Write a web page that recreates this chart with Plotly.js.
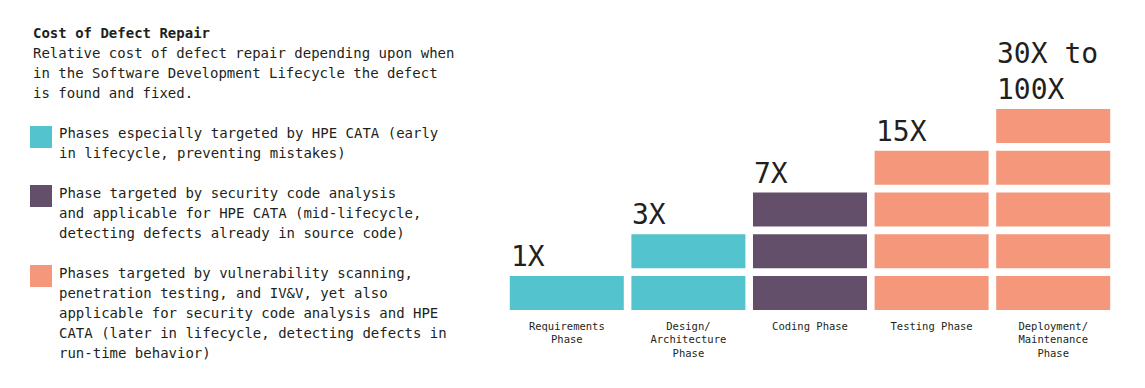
<!DOCTYPE html>
<html>
<head>
<meta charset="utf-8">
<script src="https://cdn.plot.ly/plotly-3.0.1.min.js"></script>
<style>html,body{margin:0;padding:0;background:#fff;}#chart{width:1145px;height:388px;}</style>
</head>
<body>
<div id="chart"></div>
<script>
// ---- data ----
const categories = ['Requirements<br>Phase', 'Design/<br>Architecture<br>Phase', 'Coding Phase', 'Testing Phase', 'Deployment/<br>Maintenance<br>Phase'];
const costLabels = ['1X', '3X', '7X', '15X', '30X to<br>100X'];
const blockCounts = [1, 2, 3, 4, 5];
const phaseGroup = [0, 0, 1, 2, 2];
const groupColors = ['#53C3CE', '#634F6A', '#F4977A'];
const chartTitle = 'Cost of Defect Repair';
const descriptionLines = [
  'Relative cost of defect repair depending upon when',
  'in the Software Development Lifecycle the defect',
  'is found and fixed.'
];
const legendLines = [
  ['Phases especially targeted by HPE CATA (early', 'in lifecycle, preventing mistakes)'],
  ['Phase targeted by security code analysis', 'and applicable for HPE CATA (mid-lifecycle,', 'detecting defects already in source code)'],
  ['Phases targeted by vulnerability scanning,', 'penetration testing, and IV&amp;V, yet also', 'applicable for security code analysis and HPE', 'CATA (later in lifecycle, detecting defects in', 'run-time behavior)']
];

// ---- layout constants ----
const FONT = '"DejaVu Sans Mono", "Liberation Mono", monospace';
const TXT = '#231F20';
const ML = 506, MR = 31, MT = 80, MB = 78;
const PITCH_PX = 41.75;
const plotH = 388 - MT - MB;
const BLOCK = 34 / PITCH_PX;
const maxBlocks = Math.max(...blockCounts);

const idx = categories.map((_, i) => i);
const traces = [];
for (let k = 1; k <= maxBlocks; k++) {
  const xs = [], ys = [], bs = [], cs = [];
  idx.forEach(i => {
    if (blockCounts[i] >= k) {
      xs.push(i); ys.push(BLOCK); bs.push(k - 1); cs.push(groupColors[phaseGroup[i]]);
    }
  });
  traces.push({type: 'bar', x: xs, y: ys, base: bs, marker: {color: cs, line: {width: 0}},
    hoverinfo: 'skip', showlegend: false});
}

const annotations = [];
// cost labels above stacks
idx.forEach(i => {
  annotations.push({xref: 'x', yref: 'y', x: i, y: blockCounts[i] - 1 + BLOCK,
    xanchor: 'left', yanchor: 'bottom', xshift: -58, yshift: 1, align: 'left',
    text: costLabels[i], showarrow: false,
    font: {family: FONT, size: 28, color: TXT}});
});
// text block on left (pixel placement)
function leftText(text, px, py, opts) {
  annotations.push(Object.assign({xref: 'paper', yref: 'paper', x: 0, y: 1,
    xanchor: 'left', yanchor: 'middle', xshift: px - ML, yshift: MT - py,
    text: text, showarrow: false, align: 'left',
    font: {family: FONT, size: 14, color: TXT}}, opts || {}));
}
leftText('<b>' + chartTitle + '</b>', 31, 33);
descriptionLines.forEach((t, j) => leftText(t, 31, 53 + 20 * j));
const legendStartY = [133, 193, 273];
const squareTop = [126, 185, 265];
const shapes = [];
legendLines.forEach((lines, g) => {
  lines.forEach((t, j) => leftText(t, 57, legendStartY[g] + 20 * j));
  shapes.push({type: 'rect', xref: 'paper', yref: 'paper', xsizemode: 'pixel', ysizemode: 'pixel',
    xanchor: 0, yanchor: 1, x0: 30 - ML, x1: 52 - ML, y0: MT - (squareTop[g] + 22), y1: MT - squareTop[g],
    fillcolor: groupColors[g], line: {width: 0}});
});

const layout = {
  width: 1145, height: 388,
  margin: {l: ML, r: MR, t: MT, b: MB, pad: 0},
  paper_bgcolor: '#ffffff', plot_bgcolor: '#ffffff',
  barmode: 'overlay', bargap: 0.0625,
  showlegend: false,
  xaxis: {tickvals: idx, ticktext: categories, range: [-0.5, categories.length - 0.5],
    showgrid: false, zeroline: false, showline: false, ticks: '', fixedrange: true,
    ticklabelstandoff: 8,
    tickfont: {family: FONT, size: 10.5, color: TXT}},
  yaxis: {range: [0, plotH / PITCH_PX], visible: false, fixedrange: true},
  annotations: annotations,
  shapes: shapes
};

Plotly.newPlot('chart', traces, layout, {displayModeBar: false, staticPlot: true});
</script>
</body>
</html>
